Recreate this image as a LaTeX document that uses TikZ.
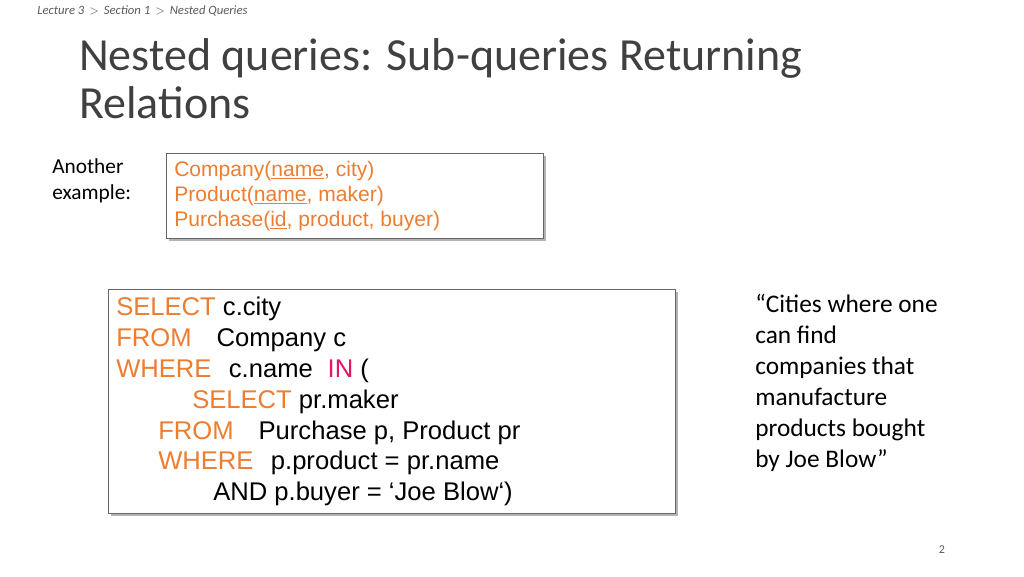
\documentclass[tikz,border=0pt]{standalone}
\usepackage{fontspec}
\setmainfont{Carlito}
\newfontfamily\arial{Liberation Sans}
\usetikzlibrary{shadows}
\definecolor{sqlkey}{RGB}{237,125,49}
\definecolor{sqlin}{RGB}{230,20,100}
\definecolor{crumb}{RGB}{90,90,90}
\newcommand{\kw}[1]{\textcolor{sqlkey}{#1}}
\tikzset{
  code/.style={anchor=west,inner sep=0pt,font=\arial\fontsize{19.2}{21}\selectfont},
  schema/.style={anchor=west,inner sep=0pt,text=sqlkey,font=\arial\fontsize{15.8}{17}\selectfont},
  panel/.style={draw=gray!80!black,fill=white,drop shadow={shadow xshift=2pt,shadow yshift=-2pt,opacity=0.6}}
}
\begin{document}
\begin{tikzpicture}[x=0.75pt,y=-0.75pt]
\useasboundingbox (0,0) rectangle (1024,576);
% header
\node[anchor=west,inner sep=0pt,text=crumb,font=\itshape\fontsize{9.5}{11}\selectfont] (crumbs) at (37,11)
  {Lecture 3 \,$>$\, Section 1 \,$>$\, Nested Queries};
\node[anchor=north west,inner sep=0pt,align=left,text=black!75,font=\fontsize{34.5}{36}\selectfont] (title) at (79,38)
  {Nested queries: Sub-queries Returning\\Relations};
\node[anchor=north west,inner sep=0pt,align=left,font=\fontsize{16}{19.5}\selectfont] (another) at (52,158)
  {Another\\example:};
% schema
\draw[panel] (166,153) rectangle (543,238);
\node[schema] (company) at (174,171) {Company(\underline{name}, city)};
\node[schema] (product) at (174,196) {Product(\underline{name}, maker)};
\node[schema] (purchase) at (174,221) {Purchase(\underline{id}, product, buyer)};
% query
\draw[panel] (108,289) rectangle (675,513);
\node[code] (l1) at (116,309) {\kw{SELECT} c.city};
\node[code] (l2) at (116,340) {\kw{FROM}\hspace{0.7em} Company c};
\node[code] (l3) at (116,371) {\kw{WHERE}\hspace{0.4em} c.name\hspace{0.3em} \textcolor{sqlin}{IN} (};
\node[code] (l4) at (192,402) {\kw{SELECT} pr.maker};
\node[code] (l5) at (158,433) {\kw{FROM}\hspace{0.7em} Purchase p, Product pr};
\node[code] (l6) at (158,463) {\kw{WHERE}\hspace{0.4em} p.product = pr.name};
\node[code] (l7) at (213,494) {AND p.buyer = ‘Joe Blow‘)};
% description
\node[anchor=north west,inner sep=0pt,align=left,font=\fontsize{19}{23.25}\selectfont] (desc) at (755,294)
  {“Cities where one\\can find\\companies that\\manufacture\\products bought\\by Joe Blow”};
\node[inner sep=0pt,text=crumb,font=\fontsize{9}{11}\selectfont] (page) at (942,550) {2};
\end{tikzpicture}
\end{document}
